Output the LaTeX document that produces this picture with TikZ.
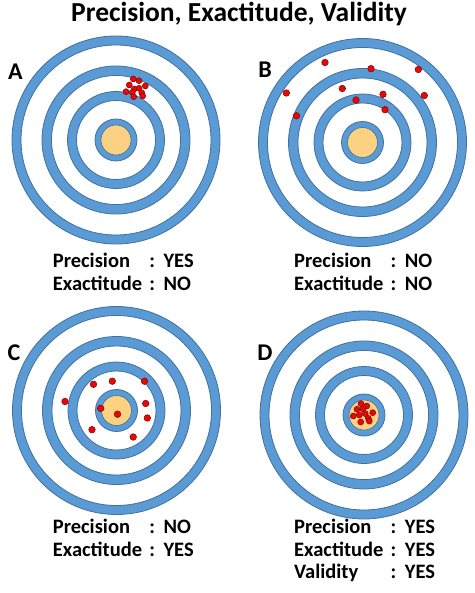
\documentclass[tikz,border=0pt]{standalone}
\usepackage{fontspec}
\setmainfont{Carlito}
\definecolor{ringblue}{RGB}{91,155,213}
\definecolor{ringedge}{RGB}{65,113,156}
\definecolor{bullyellow}{RGB}{252,210,130}
\definecolor{dotred}{RGB}{226,10,10}
\definecolor{dotedge}{RGB}{140,0,0}
\tikzset{
  ring/.style={fill=ringblue, draw=ringedge, line width=0.8pt, even odd rule},
  bull/.style={fill=bullyellow, draw=ringedge, line width=0.6pt},
  hit/.style={fill=dotred, draw=dotedge, line width=0.5pt},
  titletext/.style={font=\fontsize{27.5}{32}\selectfont\bfseries, inner sep=0pt},
  lettertext/.style={font=\fontsize{24}{28}\selectfont\bfseries, inner sep=0pt},
  labeltext/.style={font=\fontsize{20.5}{24}\selectfont\bfseries, inner sep=0pt, anchor=base west},
}
\newcommand{\drawtarget}[2]{%
  \path[ring] (#1,#2) circle (104) (#1,#2) circle (95);
  \path[ring] (#1,#2) circle (74) (#1,#2) circle (64.5);
  \path[ring] (#1,#2) circle (48.5) (#1,#2) circle (39.5);
  \path[fill=ringblue, draw=ringedge, line width=0.8pt] (#1,#2) circle (21);
  \path[bull] (#1,#2) circle (15);
}
\newcommand{\lbl}[2]{\makebox[96.5pt][l]{#1}:\hspace{8.5pt}#2}
\begin{document}
\begin{tikzpicture}[x=1pt, y=-1pt]
\useasboundingbox (0,0) rectangle (474,593);
\fill[white] (0,0) rectangle (474,593);

\node[titletext, anchor=base] (title) at (239,22) {Precision, Exactitude, Validity};

% Targets
\drawtarget{116}{140}
\drawtarget{362.5}{142.5}
\drawtarget{116.5}{410.5}
\drawtarget{364}{415}

% Letters
\node[lettertext] (la) at (15.5,72) {A};
\node[lettertext] (lb) at (265,70) {B};
\node[lettertext] (lc) at (14,353) {C};
\node[lettertext] (ld) at (265,353) {D};

% A hits
\foreach \x/\y in {133.3/79,139/80.7,129.3/85,145.3/86,134.3/89,139/88.3,126/91.7,132.3/92.3,141.7/92.7,133.7/96.7,142.7/96}
  \path[hit] (\x,\y) circle (3);
% B hits
\foreach \x/\y in {325/62.5,371/68.7,418.3/69.5,286.3/93,342.3/88.5,383/94.3,424.3/95.5,356/100,385/109.7,296.5/115.8}
  \path[hit] (\x,\y) circle (3.3);
% C hits
\foreach \x/\y in {93.5/384.3,112.3/381.2,144.5/381.2,65/401.5,145.7/403.5,100.7/408.3,117.5/414.2,147.3/418,92/429.7,133.2/437}
  \path[hit] (\x,\y) circle (3.3);
% D hits
\foreach \x/\y in {361/403.7,366.7/406,357/409.3,363/409,353.3/416,359.3/415,365.3/413.7,372.7/412.7,368.3/418.3,360.7/422,369.3/421}
  \path[hit] (\x,\y) circle (3);

% Labels
\node[labeltext] (a1) at (52.7,267.7) {\lbl{Precision}{YES}};
\node[labeltext] (a2) at (52.7,290) {\lbl{Exactitude}{NO}};
\node[labeltext] (b1) at (294,267.7) {\lbl{Precision}{NO}};
\node[labeltext] (b2) at (294,290) {\lbl{Exactitude}{NO}};
\node[labeltext] (c1) at (52.7,533.3) {\lbl{Precision}{NO}};
\node[labeltext] (c2) at (52.7,556) {\lbl{Exactitude}{YES}};
\node[labeltext] (d1) at (294,533.3) {\lbl{Precision}{YES}};
\node[labeltext] (d2) at (294,556) {\lbl{Exactitude}{YES}};
\node[labeltext] (d3) at (294,578.3) {\lbl{Validity}{YES}};
\end{tikzpicture}
\end{document}
